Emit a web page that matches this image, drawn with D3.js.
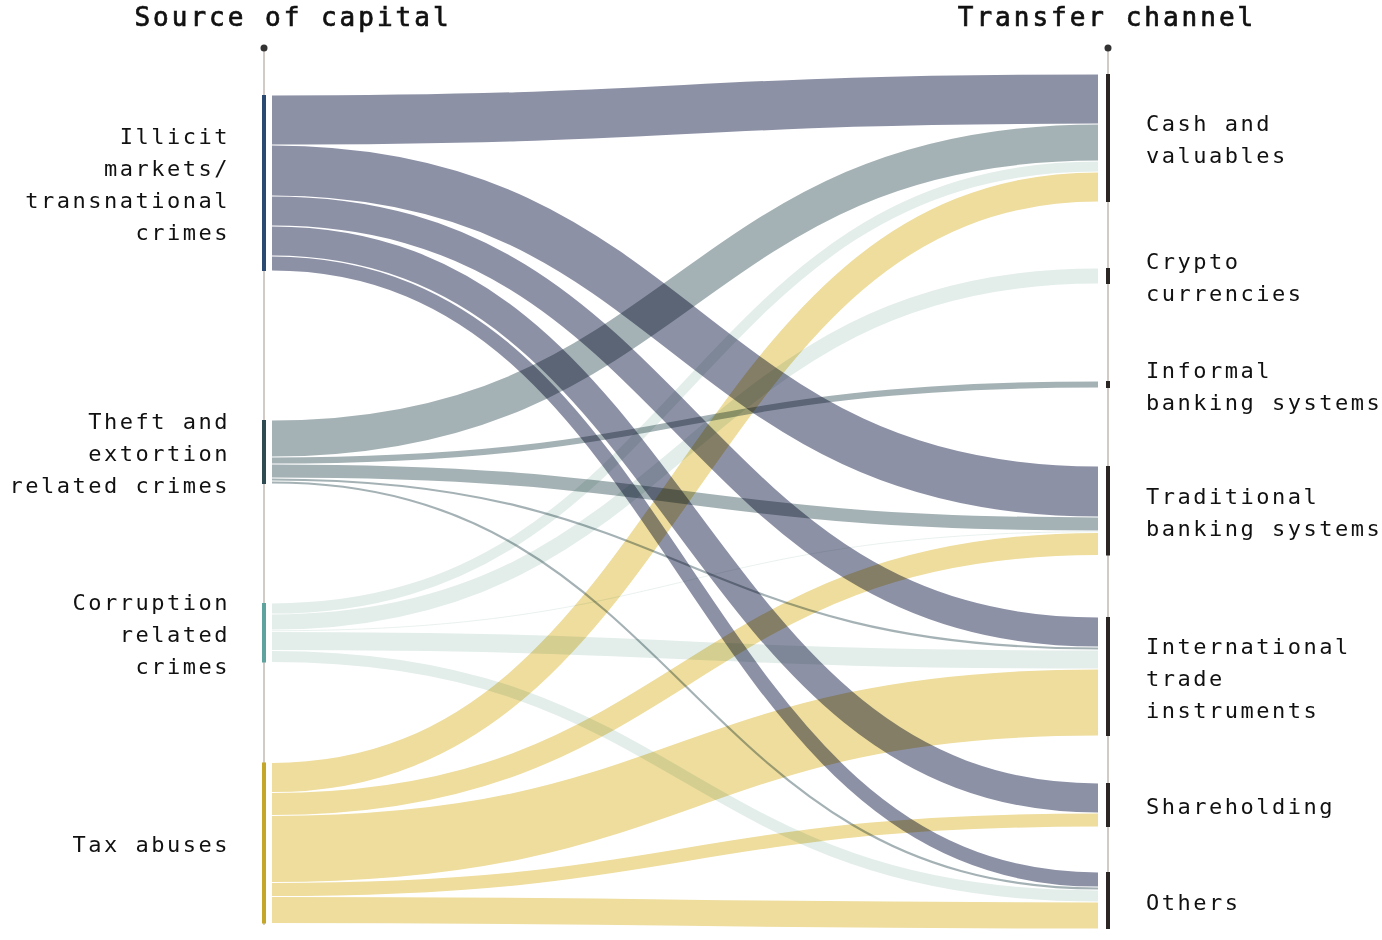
<!DOCTYPE html>
<html>
<head>
<meta charset="utf-8">
<script src="https://cdn.jsdelivr.net/npm/d3@7"></script>
<style>
  body { margin: 0; background: #fff; }
  text { font-family: "DejaVu Sans Mono", "Liberation Mono", monospace; fill: #111; }
</style>
</head>
<body>
<script>
var width = 1382, height = 940;

// data: sources (left), channels (right), flows per source over channels
var sources = ["Illicit markets/ transnational crimes", "Theft and extortion related crimes", "Corruption related crimes", "Tax abuses"];
var sourceLines = [["Illicit", "markets/", "transnational", "crimes"], ["Theft and", "extortion", "related crimes"], ["Corruption", "related", "crimes"], ["Tax abuses"]];
var channels = ["Cash and valuables", "Crypto currencies", "Informal banking systems", "Traditional banking systems", "International trade instruments", "Shareholding", "Others"];
var channelLines = [["Cash and", "valuables"], ["Crypto", "currencies"], ["Informal", "banking systems"], ["Traditional", "banking systems"], ["International", "trade", "instruments"], ["Shareholding"], ["Others"]];

var illicitFlows    = [50, 0, 0, 51, 30, 30, 15];
var theftFlows      = [37, 0, 7, 14, 3, 0, 3];
var corruptionFlows = [11, 16, 0, 1.5, 19, 0, 12];
var taxFlows        = [30, 0, 0, 23, 67, 14, 27];
var flows = [illicitFlows, theftFlows, corruptionFlows, taxFlows];

// layout spacing (in value units)
var leftStart = 21, leftGaps = [149, 119, 100];
var rightStart = 0, rightGaps = [66, 97, 78, 61.5, 47, 45];

var linkColors = ["#8d91a6", "#a5b2b5", "#e3eeea", "#eedd9d"];
var sourceBarColors = ["#2b4a72", "#2f4b52", "#5fa39f", "#c4a62a"];

var xLeft = 264, xRight = 1108, x0 = 272, x1 = 1098;

var svg = d3.select("body").append("svg").attr("width", width).attr("height", height);

var y = d3.scaleLinear().domain([0, 855]).range([74, 929]);

// node totals
var srcTotals = flows.map(function (f) { return d3.sum(f); });
var chTotals = channels.map(function (c, j) { return d3.sum(flows, function (f) { return f[j]; }); });

var srcNodes = [], pos = leftStart;
srcTotals.forEach(function (t, i) {
	srcNodes.push({ y0: pos, y1: pos + t });
	pos += t + (leftGaps[i] || 0);
});
var chNodes = [];
pos = rightStart;
chTotals.forEach(function (t, j) {
	chNodes.push({ y0: pos, y1: pos + t });
	pos += t + (rightGaps[j] || 0);
});

// links
var links = [];
var srcOff = srcNodes.map(function (n) { return n.y0; });
var chOff = chNodes.map(function (n) { return n.y0; });
flows.forEach(function (f, i) {
	f.forEach(function (v, j) {
		if (!v) return;
		links.push({ s: i, t: j, v: v, ys: srcOff[i] + v / 2, yt: 0 });
		srcOff[i] += v;
	});
});
// target offsets ordered by source
channels.forEach(function (c, j) {
	links.filter(function (l) { return l.t === j; }).sort(function (a, b) { return a.s - b.s; }).forEach(function (l) {
		l.yt = chOff[j] + l.v / 2;
		chOff[j] += l.v;
	});
});

// axis lines and dots
[xLeft, xRight].forEach(function (x, k) {
	svg.append("line").attr("x1", x).attr("x2", x).attr("y1", 48).attr("y2", k ? 929 : 925)
		.attr("stroke", "#a3958c").attr("stroke-width", 1);
	svg.append("circle").attr("cx", x).attr("cy", 48).attr("r", 3.5).attr("fill", "#333");
});

var linkGen = d3.linkHorizontal();
var k = y(1) - y(0);
svg.append("g").selectAll("path").data(links).enter().append("path")
	.attr("d", function (l) { return linkGen({ source: [x0, y(l.ys)], target: [x1, y(l.yt)] }); })
	.attr("fill", "none")
	.attr("stroke", function (l) { return linkColors[l.s]; })
	.attr("stroke-width", function (l) { return Math.max(0.8, l.v * k - 0.8); })
	.style("mix-blend-mode", "multiply");

// node bars
svg.append("g").selectAll("rect").data(srcNodes).enter().append("rect")
	.attr("x", xLeft - 2).attr("width", 4)
	.attr("y", function (n) { return y(n.y0); })
	.attr("height", function (n) { return y(n.y1) - y(n.y0); })
	.attr("fill", function (n, i) { return sourceBarColors[i]; });
svg.append("g").selectAll("rect").data(chNodes).enter().append("rect")
	.attr("x", xRight - 2).attr("width", 4)
	.attr("y", function (n) { return y(n.y0); })
	.attr("height", function (n) { return Math.max(3, y(n.y1) - y(n.y0)); })
	.attr("fill", "#2b2523");

// labels
function label(lines, x, cy, anchor) {
	var t = svg.append("text").attr("text-anchor", anchor).style("font-size", "22px").style("letter-spacing", "2.5px");
	lines.forEach(function (s, i) {
		t.append("tspan").attr("x", x).attr("y", cy + (i - (lines.length - 1) / 2) * 32 + 9).text(s);
	});
}
srcNodes.forEach(function (n, i) { label(sourceLines[i], 230, (y(n.y0) + y(n.y1)) / 2, "end"); });
chNodes.forEach(function (n, j) { label(channelLines[j], 1146, (y(n.y0) + y(n.y1)) / 2, "start"); });

// titles
svg.append("text").attr("x", 293).attr("y", 26).attr("text-anchor", "middle")
	.style("font-size", "26px").style("letter-spacing", "3px")
	.attr("stroke", "#111").attr("stroke-width", 0.7).text("Source of capital");
svg.append("text").attr("x", 1107).attr("y", 26).attr("text-anchor", "middle")
	.style("font-size", "26px").style("letter-spacing", "3px")
	.attr("stroke", "#111").attr("stroke-width", 0.7).text("Transfer channel");
</script>
</body>
</html>
